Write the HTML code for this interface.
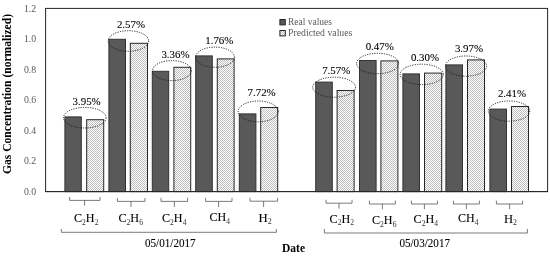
<!DOCTYPE html>
<html lang="en"><head><meta charset="utf-8"><title>Gas Concentration</title>
<style>
html,body{margin:0;padding:0;background:#fff;}
body{width:550px;height:256px;overflow:hidden;font-family:"Liberation Serif","DejaVu Serif",serif;}
svg{display:block;}
text{font-family:"Liberation Serif","DejaVu Serif",serif;}
.ax{font-size:9.8px;fill:#595959;}
.pc{font-size:10.9px;fill:#000;stroke:#000;stroke-width:0.1px;}
.gs{font-size:12.2px;fill:#000;stroke:#000;stroke-width:0.08px;}
.sub{font-size:7.6px;fill:#333;stroke:none;}
.dt{font-size:11.5px;fill:#000;stroke:#000;stroke-width:0.08px;}
.bt{font-size:11.5px;font-weight:bold;fill:#000;}
.lg{font-size:9.5px;fill:#595959;}
</style></head><body>
<svg width="550" height="256" viewBox="0 0 550 256">
<defs>
<pattern id="dots" width="2" height="2" patternUnits="userSpaceOnUse">
<rect width="2" height="2" fill="#ffffff"/>
<rect x="0" y="0" width="1" height="1" fill="#bebebe"/>
<rect x="1" y="1" width="1" height="1" fill="#bebebe"/>
</pattern>
</defs>
<rect width="550" height="256" fill="#ffffff"/>
<rect x="45.6" y="8.4" width="502.0" height="183.2" fill="none" stroke="#262626" stroke-width="1"/>
<text class="ax" x="36.2" y="194.8" text-anchor="end">0.0</text>
<text class="ax" x="36.2" y="164.3" text-anchor="end">0.2</text>
<text class="ax" x="36.2" y="133.7" text-anchor="end">0.4</text>
<text class="ax" x="36.2" y="103.2" text-anchor="end">0.6</text>
<text class="ax" x="36.2" y="72.7" text-anchor="end">0.8</text>
<text class="ax" x="36.2" y="42.1" text-anchor="end">1.0</text>
<text class="ax" x="36.2" y="11.6" text-anchor="end">1.2</text>
<rect x="64.9" y="116.9" width="16.4" height="74.7" fill="#595959" stroke="#333" stroke-width="1"/>
<rect x="86.7" y="119.7" width="17.0" height="71.9" fill="url(#dots)" stroke="#262626" stroke-width="1"/>
<rect x="108.9" y="39.3" width="16.6" height="152.3" fill="#595959" stroke="#333" stroke-width="1"/>
<rect x="130.3" y="43.3" width="17.2" height="148.3" fill="url(#dots)" stroke="#262626" stroke-width="1"/>
<rect x="152.3" y="71.3" width="16.4" height="120.3" fill="#595959" stroke="#333" stroke-width="1"/>
<rect x="173.9" y="67.3" width="16.8" height="124.3" fill="url(#dots)" stroke="#262626" stroke-width="1"/>
<rect x="195.7" y="55.9" width="16.6" height="135.7" fill="#595959" stroke="#333" stroke-width="1"/>
<rect x="217.3" y="58.9" width="16.8" height="132.7" fill="url(#dots)" stroke="#262626" stroke-width="1"/>
<rect x="239.3" y="113.9" width="16.6" height="77.7" fill="#595959" stroke="#333" stroke-width="1"/>
<rect x="260.7" y="107.5" width="17.0" height="84.1" fill="url(#dots)" stroke="#262626" stroke-width="1"/>
<rect x="315.7" y="82.1" width="16.6" height="109.5" fill="#595959" stroke="#333" stroke-width="1"/>
<rect x="337.1" y="90.5" width="17.0" height="101.1" fill="url(#dots)" stroke="#262626" stroke-width="1"/>
<rect x="359.5" y="60.5" width="16.6" height="131.1" fill="#595959" stroke="#333" stroke-width="1"/>
<rect x="380.9" y="60.9" width="17.0" height="130.7" fill="url(#dots)" stroke="#262626" stroke-width="1"/>
<rect x="402.9" y="73.9" width="16.6" height="117.7" fill="#595959" stroke="#333" stroke-width="1"/>
<rect x="424.5" y="73.1" width="17.2" height="118.5" fill="url(#dots)" stroke="#262626" stroke-width="1"/>
<rect x="445.9" y="64.9" width="16.6" height="126.7" fill="#595959" stroke="#333" stroke-width="1"/>
<rect x="467.5" y="59.9" width="17.0" height="131.7" fill="url(#dots)" stroke="#262626" stroke-width="1"/>
<rect x="489.9" y="109.1" width="16.6" height="82.5" fill="#595959" stroke="#333" stroke-width="1"/>
<rect x="511.5" y="106.5" width="17.0" height="85.1" fill="url(#dots)" stroke="#262626" stroke-width="1"/>
<line x1="45.6" y1="191.6" x2="547.6" y2="191.6" stroke="#262626" stroke-width="1"/>
<ellipse cx="84.8" cy="117.7" rx="21.3" ry="10.3" fill="none" stroke="#1a1a1a" stroke-width="1" stroke-dasharray="1.1 1.3"/>
<ellipse cx="128.4" cy="41.0" rx="20.2" ry="10.3" fill="none" stroke="#1a1a1a" stroke-width="1" stroke-dasharray="1.1 1.3"/>
<ellipse cx="171.9" cy="70.6" rx="19.4" ry="10.0" fill="none" stroke="#1a1a1a" stroke-width="1" stroke-dasharray="1.1 1.3"/>
<ellipse cx="215.0" cy="57.2" rx="19.4" ry="10.1" fill="none" stroke="#1a1a1a" stroke-width="1" stroke-dasharray="1.1 1.3"/>
<ellipse cx="258.2" cy="111.4" rx="20.0" ry="10.4" fill="none" stroke="#1a1a1a" stroke-width="1" stroke-dasharray="1.1 1.3"/>
<ellipse cx="334.1" cy="87.2" rx="21.4" ry="10.0" fill="none" stroke="#1a1a1a" stroke-width="1" stroke-dasharray="1.1 1.3"/>
<ellipse cx="377.6" cy="63.5" rx="21.0" ry="10.2" fill="none" stroke="#1a1a1a" stroke-width="1" stroke-dasharray="1.1 1.3"/>
<ellipse cx="421.7" cy="74.4" rx="21.5" ry="10.2" fill="none" stroke="#1a1a1a" stroke-width="1" stroke-dasharray="1.1 1.3"/>
<ellipse cx="466.0" cy="66.1" rx="20.6" ry="10.1" fill="none" stroke="#1a1a1a" stroke-width="1" stroke-dasharray="1.1 1.3"/>
<ellipse cx="509.0" cy="111.1" rx="20.7" ry="10.1" fill="none" stroke="#1a1a1a" stroke-width="1" stroke-dasharray="1.1 1.3"/>
<text class="pc" x="86.6" y="105.0" text-anchor="middle">3.95%</text>
<text class="pc" x="131.0" y="27.6" text-anchor="middle">2.57%</text>
<text class="pc" x="175.5" y="57.6" text-anchor="middle">3.36%</text>
<text class="pc" x="219.3" y="44.0" text-anchor="middle">1.76%</text>
<text class="pc" x="261.6" y="96.4" text-anchor="middle">7.72%</text>
<text class="pc" x="336.2" y="74.4" text-anchor="middle">7.57%</text>
<text class="pc" x="379.7" y="50.4" text-anchor="middle">0.47%</text>
<text class="pc" x="425.0" y="61.4" text-anchor="middle">0.30%</text>
<text class="pc" x="469.0" y="52.4" text-anchor="middle">3.97%</text>
<text class="pc" x="512.0" y="97.0" text-anchor="middle">2.41%</text>
<rect x="279.9" y="19.5" width="5.4" height="5.4" fill="#595959" stroke="#262626" stroke-width="1"/>
<rect x="279.9" y="30.5" width="5.4" height="5.4" fill="url(#dots)" stroke="#262626" stroke-width="1"/>
<text class="lg" x="288" y="24.6" textLength="44" lengthAdjust="spacingAndGlyphs">Real values</text>
<text class="lg" x="288" y="35.6" textLength="64.4" lengthAdjust="spacingAndGlyphs">Predicted values</text>
<path d="M69.6 197.0V200.4H100.0V197.0M84.6 200.4V205.6" fill="none" stroke="#595959" stroke-width="0.8"/>
<path d="M117.4 198.0V201.4H145.0V198.0M131.0 201.4V207.0" fill="none" stroke="#595959" stroke-width="0.8"/>
<path d="M161.0 197.8V201.4H187.6V197.8M174.4 201.4V207.0" fill="none" stroke="#595959" stroke-width="0.8"/>
<path d="M205.6 197.8V201.4H232.0V197.8M218.6 201.4V207.0" fill="none" stroke="#595959" stroke-width="0.8"/>
<path d="M250.0 197.8V201.2H277.6V197.8M263.6 201.2V207.0" fill="none" stroke="#595959" stroke-width="0.8"/>
<path d="M326.0 199.8V203.2H352.0V199.8M339.0 203.2V208.6" fill="none" stroke="#595959" stroke-width="0.8"/>
<path d="M369.4 200.6V204.0H395.4V200.6M382.4 204.0V209.2" fill="none" stroke="#595959" stroke-width="0.8"/>
<path d="M411.4 200.6V204.0H437.4V200.6M424.4 204.0V209.2" fill="none" stroke="#595959" stroke-width="0.8"/>
<path d="M453.4 200.6V204.0H479.4V200.6M466.4 204.0V209.2" fill="none" stroke="#595959" stroke-width="0.8"/>
<path d="M496.4 200.6V204.0H522.6V200.6M509.6 204.0V209.2" fill="none" stroke="#595959" stroke-width="0.8"/>
<path d="M61.4 229V232.3H276.4V229" fill="none" stroke="#595959" stroke-width="0.8"/>
<path d="M324.4 229V233H527.4V229" fill="none" stroke="#595959" stroke-width="0.8"/>
<text class="gs" x="74.0" y="222.0" textLength="24.4" lengthAdjust="spacingAndGlyphs">C<tspan class="sub" dy="2.6">2</tspan><tspan dy="-2.6">H</tspan><tspan class="sub" dy="2.6">2</tspan></text>
<text class="gs" x="118.4" y="222.0" textLength="24.6" lengthAdjust="spacingAndGlyphs">C<tspan class="sub" dy="2.6">2</tspan><tspan dy="-2.6">H</tspan><tspan class="sub" dy="2.6">6</tspan></text>
<text class="gs" x="162.0" y="222.0" textLength="24.4" lengthAdjust="spacingAndGlyphs">C<tspan class="sub" dy="2.6">2</tspan><tspan dy="-2.6">H</tspan><tspan class="sub" dy="2.6">4</tspan></text>
<text class="gs" x="209.6" y="221.4" textLength="20.4" lengthAdjust="spacingAndGlyphs">CH<tspan class="sub" dy="2.6">4</tspan></text>
<text class="gs" x="258.4" y="221.6" textLength="13.2" lengthAdjust="spacingAndGlyphs">H<tspan class="sub" dy="2.6">2</tspan></text>
<text class="gs" x="329.6" y="222.6" textLength="24.4" lengthAdjust="spacingAndGlyphs">C<tspan class="sub" dy="2.6">2</tspan><tspan dy="-2.6">H</tspan><tspan class="sub" dy="2.6">2</tspan></text>
<text class="gs" x="372.0" y="224.0" textLength="24.4" lengthAdjust="spacingAndGlyphs">C<tspan class="sub" dy="2.6">2</tspan><tspan dy="-2.6">H</tspan><tspan class="sub" dy="2.6">6</tspan></text>
<text class="gs" x="413.6" y="223.0" textLength="24.4" lengthAdjust="spacingAndGlyphs">C<tspan class="sub" dy="2.6">2</tspan><tspan dy="-2.6">H</tspan><tspan class="sub" dy="2.6">4</tspan></text>
<text class="gs" x="458.0" y="222.0" textLength="20.4" lengthAdjust="spacingAndGlyphs">CH<tspan class="sub" dy="2.6">4</tspan></text>
<text class="gs" x="504.0" y="222.6" textLength="13.0" lengthAdjust="spacingAndGlyphs">H<tspan class="sub" dy="2.6">2</tspan></text>
<text class="dt" x="145" y="247.2" textLength="50.6" lengthAdjust="spacingAndGlyphs">05/01/2017</text>
<text class="dt" x="399.4" y="246.7" textLength="50.6" lengthAdjust="spacingAndGlyphs">05/03/2017</text>
<text class="bt" x="293.5" y="252.2" text-anchor="middle">Date</text>
<text class="bt" transform="translate(11.0 174) rotate(-90)" textLength="160" lengthAdjust="spacingAndGlyphs">Gas Concentration (normalized)</text>
</svg>
</body></html>
